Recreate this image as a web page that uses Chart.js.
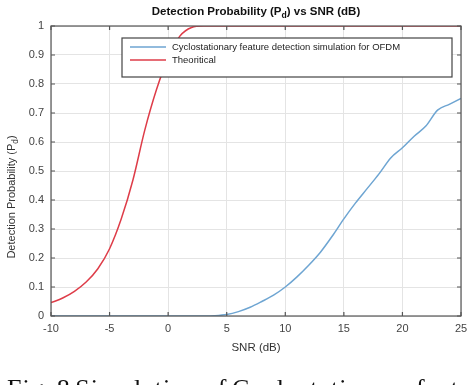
<!DOCTYPE html>
<html>
<head>
<meta charset="utf-8">
<script src="https://cdn.jsdelivr.net/npm/chart.js@4"></script>
<style>
	body { margin: 0; background: #fff; }
	#wrap { position: relative; width: 474px; height: 385px; overflow: hidden; }
	#caption {
		position: absolute; left: 7px; top: 376px; white-space: nowrap;
		font-family: "Liberation Serif", serif; font-size: 26px; line-height: 1; color: #111;
		letter-spacing: 1px; word-spacing: -3px;
	}
</style>
</head>
<body>
<div id="wrap">
	<canvas id="pdchart" width="474" height="385"></canvas>
	<div id="caption">Fig. 8 Simulation of Cyclostationary feature detection</div>
</div>
<script>
var snr = [-10, -9, -8, -7, -6, -5, -4, -3, -2, -1, 0, 1, 2, 3, 4, 5, 6, 7, 8, 9, 10,
	11, 12, 13, 14, 15, 16, 17, 18, 19, 20, 21, 22, 23, 24, 25];
var theoretical = [0.046, 0.062, 0.085, 0.117, 0.163, 0.232, 0.335, 0.47, 0.64, 0.78, 0.89,
	0.965, 0.995, 1, 1, 1, 1, 1, 1, 1, 1, 1, 1, 1, 1, 1, 1, 1, 1, 1, 1, 1, 1, 1, 1, 1];
var simulated = [0, 0, 0, 0, 0, 0, 0, 0, 0, 0, 0, 0, 0, 0, 0.001, 0.005, 0.015, 0.03, 0.05,
	0.072, 0.10, 0.135, 0.175, 0.22, 0.275, 0.335, 0.39, 0.44, 0.49, 0.545, 0.58, 0.62,
	0.655, 0.71, 0.73, 0.75];
var xTicks = [-10, -5, 0, 5, 10, 15, 20, 25];
var seriesNames = ['Cyclostationary feature detection simulation for OFDM', 'Theoritical'];

var blue = 'rgb(110, 165, 210)';
var red = 'rgb(222, 60, 72)';
var font = '"Liberation Sans", Arial, sans-serif';

function toPoints(ys) {
	return snr.map(function (x, i) { return { x: x, y: ys[i] }; });
}

// draws text with a subscript part: [base, sub, rest]
function subText(ctx, parts, x, y, size, bold) {
	var w = bold ? 'bold ' : '';
	ctx.font = w + size + 'px ' + font;
	var w0 = ctx.measureText(parts[0]).width;
	ctx.font = w + (size * 0.75) + 'px ' + font;
	var w1 = ctx.measureText(parts[1]).width;
	ctx.font = w + size + 'px ' + font;
	var w2 = ctx.measureText(parts[2]).width;
	var left = x - (w0 + w1 + w2) / 2;
	ctx.textAlign = 'left';
	ctx.textBaseline = 'middle';
	ctx.fillText(parts[0], left, y);
	ctx.font = w + (size * 0.75) + 'px ' + font;
	ctx.fillText(parts[1], left + w0, y + size * 0.35);
	ctx.font = w + size + 'px ' + font;
	ctx.fillText(parts[2], left + w0 + w1, y);
}

var matlabLook = {
	id: 'matlabLook',
	afterDraw: function (chart) {
		var ctx = chart.ctx;
		var a = chart.chartArea;
		var xs = chart.scales.x, ys = chart.scales.y;
		ctx.save();

		// box and inward ticks
		ctx.strokeStyle = '#555';
		ctx.lineWidth = 1.2;
		ctx.strokeRect(a.left, a.top, a.right - a.left, a.bottom - a.top);
		ctx.beginPath();
		xTicks.forEach(function (t) {
			var px = xs.getPixelForValue(t);
			ctx.moveTo(px, a.bottom); ctx.lineTo(px, a.bottom - 4);
			ctx.moveTo(px, a.top); ctx.lineTo(px, a.top + 4);
		});
		for (var i = 0; i <= 10; i++) {
			var py = ys.getPixelForValue(i / 10);
			ctx.moveTo(a.left, py); ctx.lineTo(a.left + 4, py);
			ctx.moveTo(a.right, py); ctx.lineTo(a.right - 4, py);
		}
		ctx.stroke();

		// title
		ctx.fillStyle = '#111';
		subText(ctx, ['Detection Probability (P', 'd', ') vs SNR (dB)'], 256, 12, 11.5, true);

		// y axis title
		ctx.save();
		ctx.translate(12, 197);
		ctx.rotate(-Math.PI / 2);
		ctx.fillStyle = '#333';
		subText(ctx, ['Detection Probability (P', 'd', ')'], 0, 0, 11, false);
		ctx.restore();

		// legend box
		var lx = 122, ly = 38, lw = 330, lh = 39;
		ctx.fillStyle = '#fff';
		ctx.fillRect(lx, ly, lw, lh);
		ctx.strokeStyle = '#444';
		ctx.lineWidth = 1.2;
		ctx.strokeRect(lx, ly, lw, lh);
		var colors = [blue, red];
		ctx.font = '9.5px ' + font;
		ctx.textAlign = 'left';
		ctx.textBaseline = 'middle';
		seriesNames.forEach(function (name, k) {
			var ry = ly + 9 + k * 13;
			ctx.strokeStyle = colors[k];
			ctx.lineWidth = 1.5;
			ctx.beginPath();
			ctx.moveTo(lx + 8, ry); ctx.lineTo(lx + 44, ry);
			ctx.stroke();
			ctx.fillStyle = '#222';
			ctx.fillText(name, lx + 50, ry);
		});
		ctx.restore();
	}
};

var ctx = document.getElementById('pdchart').getContext('2d');
var pdChart = new Chart(ctx, {
	type: 'line',
	data: {
		datasets: [{
			label: seriesNames[0],
			data: toPoints(simulated),
			borderColor: blue,
			borderWidth: 1.5,
			pointRadius: 0,
			cubicInterpolationMode: 'monotone'
		}, {
			label: seriesNames[1],
			data: toPoints(theoretical),
			borderColor: red,
			borderWidth: 1.5,
			pointRadius: 0,
			cubicInterpolationMode: 'monotone'
		}]
	},
	options: {
		responsive: false,
		animation: false,
		layout: { padding: { top: 26, right: 13, left: 0, bottom: 0 } },
		plugins: {
			legend: { display: false },
			tooltip: { enabled: false }
		},
		scales: {
			x: {
				type: 'linear',
				min: -10,
				max: 25,
				afterFit: function (scale) { scale.height = 69; },
				afterBuildTicks: function (scale) {
					scale.ticks = xTicks.map(function (v) { return { value: v }; });
				},
				grid: { color: '#e4e4e4', drawTicks: false },
				border: { display: false },
				ticks: { padding: 6, color: '#444', font: { family: font, size: 11 } },
				title: {
					display: true,
					text: 'SNR (dB)',
					color: '#333',
					font: { family: font, size: 11.5 },
					padding: { top: 0, bottom: 30 }
				}
			},
			y: {
				min: 0,
				max: 1,
				afterFit: function (scale) { scale.width = 51; },
				grid: { color: '#e4e4e4', drawTicks: false },
				border: { display: false },
				ticks: {
					stepSize: 0.1,
					padding: 7,
					color: '#444',
					font: { family: font, size: 11 },
					callback: function (v) { return Math.round(v * 10) / 10; }
				}
			}
		}
	},
	plugins: [matlabLook]
});
</script>
</body>
</html>
